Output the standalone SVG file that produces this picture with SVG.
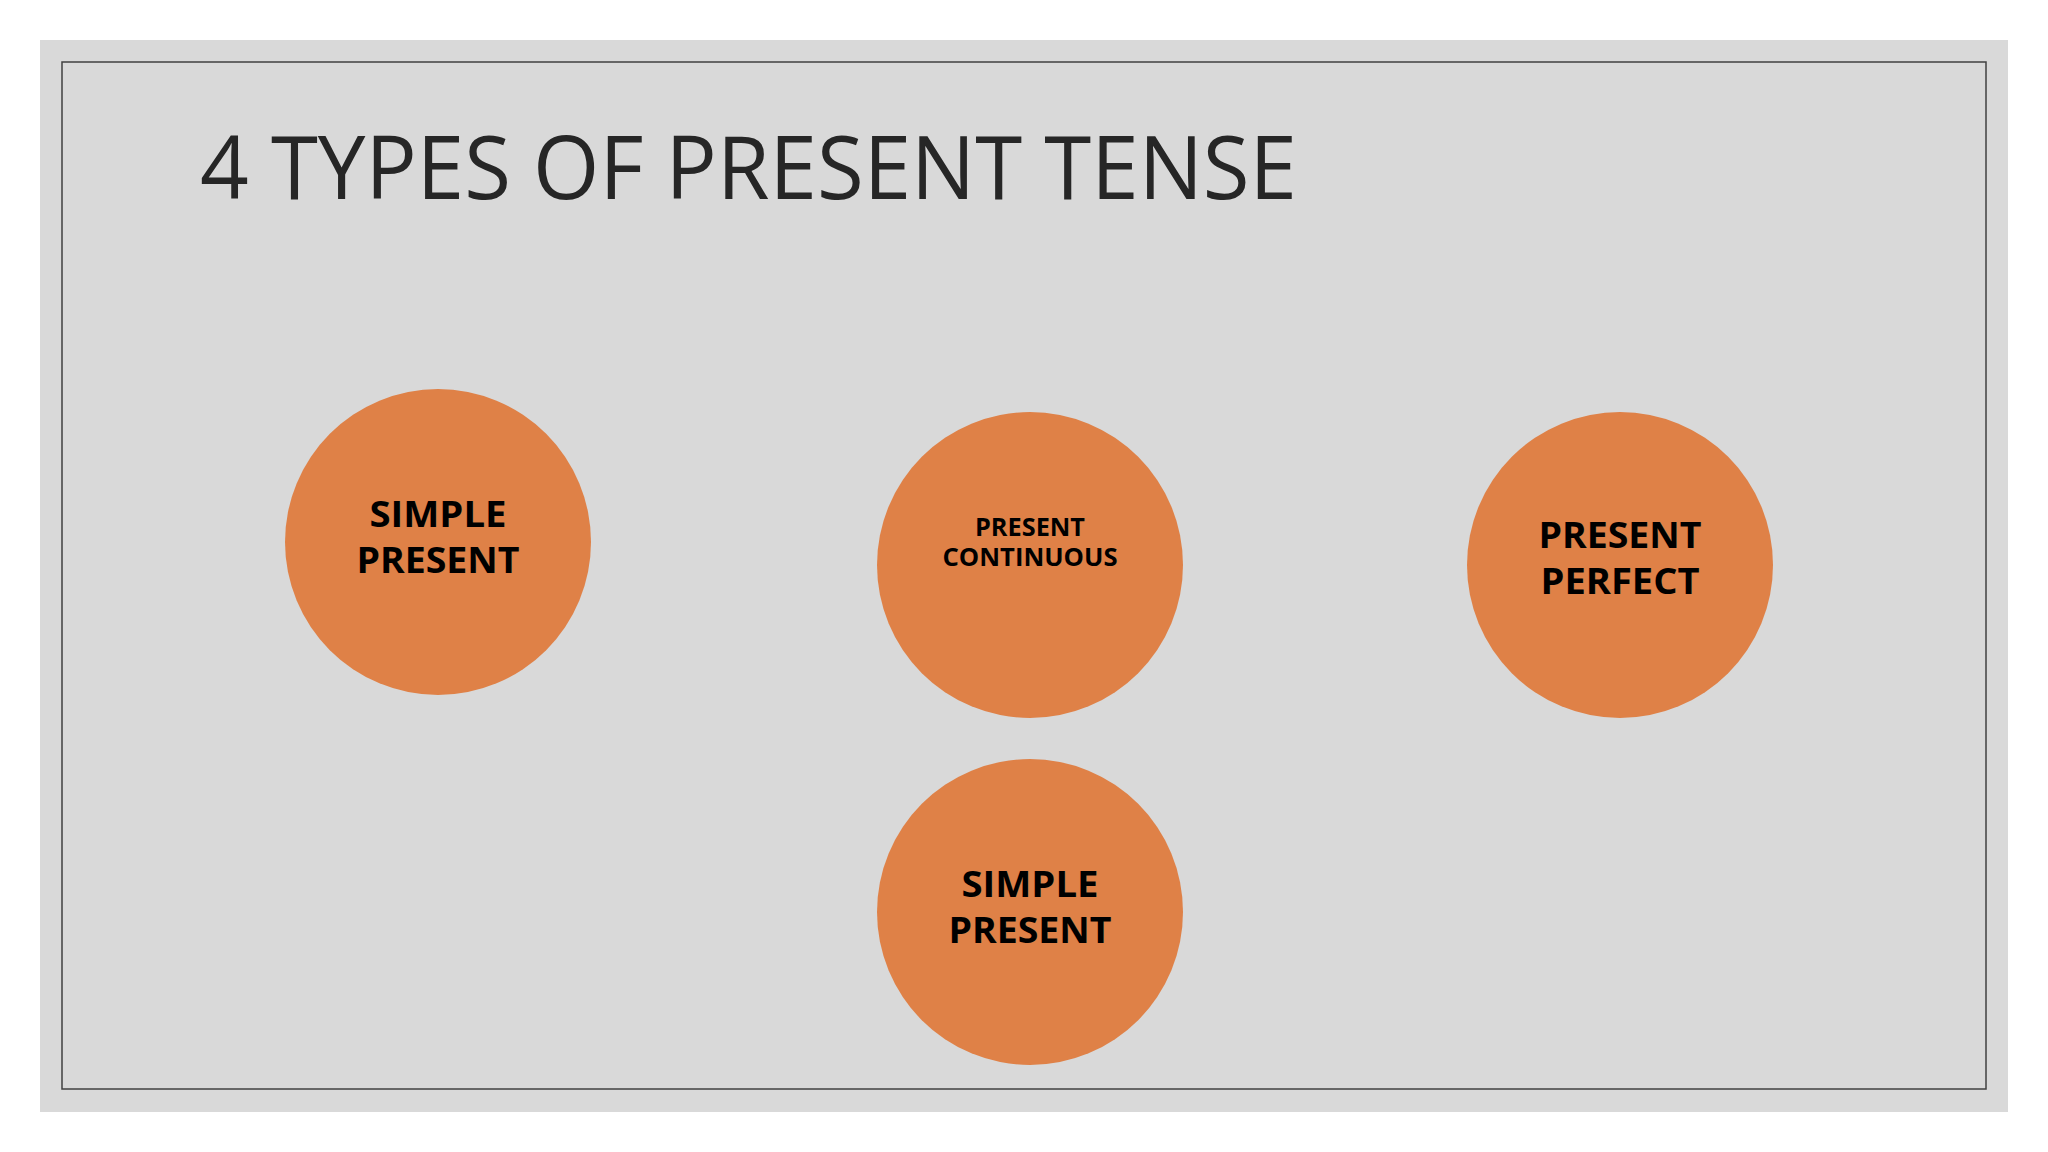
<svg xmlns="http://www.w3.org/2000/svg" width="2048" height="1152" viewBox="0 0 2048 1152">
<style>
.bg{fill:#ffffff}
.slide{fill:#d9d9d9}
.frame{fill:none;stroke:#404040;stroke-width:1.5}
.title{font-family:"Open Sans","Noto Sans","Liberation Sans",sans-serif;font-size:88px;fill:#262626}
.node circle{fill:#df8147}
.lbl{font-family:"Open Sans","Noto Sans","Liberation Sans",sans-serif;font-weight:bold;fill:#000000;text-anchor:middle}
.big{font-size:36px}
.small{font-size:25.5px}
</style>
<rect class="bg" x="0" y="0" width="2048" height="1152"/>
<rect class="slide" x="40" y="40" width="1968" height="1072"/>
<rect class="frame" x="62" y="62" width="1924" height="1027"/>
<text class="title" x="200" y="199" textLength="1097" lengthAdjust="spacingAndGlyphs">4 TYPES OF PRESENT TENSE</text>
<g id="connectors"></g>
<g id="node-simple-present-1" class="node">
<circle cx="438" cy="542" r="153"/>
<text class="lbl big" x="438" y="527" textLength="137" lengthAdjust="spacingAndGlyphs">SIMPLE</text>
<text class="lbl big" x="438" y="573" textLength="163" lengthAdjust="spacingAndGlyphs">PRESENT</text>
</g>
<g id="node-present-continuous" class="node">
<circle cx="1030" cy="565" r="153"/>
<text class="lbl small" x="1030" y="536" textLength="110" lengthAdjust="spacingAndGlyphs">PRESENT</text>
<text class="lbl small" x="1030" y="566" textLength="175" lengthAdjust="spacingAndGlyphs">CONTINUOUS</text>
</g>
<g id="node-present-perfect" class="node">
<circle cx="1620" cy="565" r="153"/>
<text class="lbl big" x="1620" y="548" textLength="163" lengthAdjust="spacingAndGlyphs">PRESENT</text>
<text class="lbl big" x="1620" y="594" textLength="159" lengthAdjust="spacingAndGlyphs">PERFECT</text>
</g>
<g id="node-simple-present-2" class="node">
<circle cx="1030" cy="912" r="153"/>
<text class="lbl big" x="1030" y="897" textLength="137" lengthAdjust="spacingAndGlyphs">SIMPLE</text>
<text class="lbl big" x="1030" y="943" textLength="163" lengthAdjust="spacingAndGlyphs">PRESENT</text>
</g>
</svg>
